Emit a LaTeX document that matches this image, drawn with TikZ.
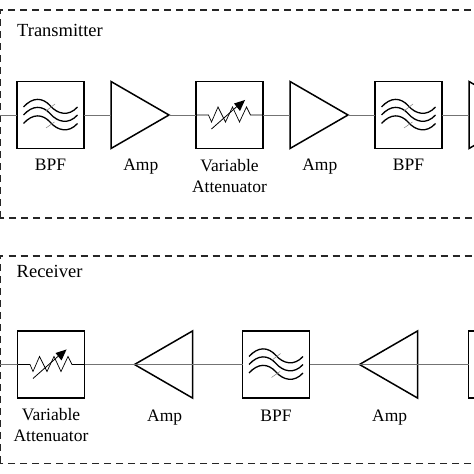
\documentclass[tikz,border=0pt]{standalone}
\usepackage{fontspec}
\setmainfont{Liberation Serif}
\usetikzlibrary{positioning,shapes.geometric}

\tikzset{
    bpfglyph/.pic={
        \foreach \dy in {8,0,-8.5} {
            \draw[line width=1.3pt,yshift=\dy pt] (-27,0) .. controls (-18,10) and (-8,10) .. (0,1)
                .. controls (7,-7) and (18,-10) .. (27,0);
        }
        \draw[gray,line width=0.5pt] (-4.5,4) -- (4.5,11);
        \draw[gray,line width=0.5pt] (-4.5,-13) -- (4,-7);
    },
    attenglyph/.pic={
        \draw[line width=0.7pt] (-33.5,0) -- (-21,0) -- (-18,-7) -- (-11.5,8) -- (-4,-7) -- (3,8) -- (10,-7) -- (17,8) -- (21,0) -- (33.5,0);
        \draw[line width=0.8pt] (-18,-14) -- (8,9);
        \fill (15.5,15) -- (4.5,11.5) -- (10.5,4) -- cycle;
    },
}

\begin{document}
\begin{tikzpicture}[
    x=1pt, y=1pt,
    font=\fontsize{17.5}{21.5}\selectfont,
    node distance=27pt,
    block/.style={draw, line width=1.5pt, minimum size=67pt, inner sep=0pt, outer sep=0pt, fill=white},
    amp/.style={draw, line width=1.5pt, isosceles triangle, isosceles triangle stretches, minimum width=67pt, minimum height=58pt, inner sep=0pt, outer sep=0pt, fill=white},
    wire/.style={draw=black!55, line width=0.8pt},
    frame/.style={draw=black!85, line width=1.1pt, dash pattern=on 7pt off 5pt},
    caption/.style={align=center, inner sep=0pt},
    title/.style={anchor=west, inner sep=0pt, font=\fontsize{18.5}{22}\selectfont},
]
    \clip (0,0) rectangle (474,474);
    \fill[white] (0,0) rectangle (474,474);

    % dashed outlines
    \draw[frame] (0,256) rectangle (490,464);
    \draw[frame] (0,10.5) rectangle (490,218);
    \node[title] (txtitle) at (17,444) {Transmitter};
    \node[title] (rxtitle) at (16.5,202.5) {Receiver};

    % transmitter chain
    \coordinate (txin) at (0,359);
    \node[block] (txbpfa) at (50.5,359) {};
    \node[amp, right=of txbpfa] (txampa) {};
    \node[block, right=of txampa] (txatt) {};
    \node[amp, right=of txatt] (txampb) {};
    \node[block, right=of txampb] (txbpfb) {};
    \node[amp, right=of txbpfb] (txampc) {};

    \draw[wire] (txin) -- (txbpfa);
    \draw[wire] (txbpfa) -- (txampa.west);
    \draw[wire] (txampa.east) -- (txatt);
    \draw[wire] (txatt) -- (txampb.west);
    \draw[wire] (txampb.east) -- (txbpfb);
    \draw[wire] (txbpfb) -- (txampc.west);

    \pic at (txatt) {attenglyph};
    \pic at (txbpfa) {bpfglyph};
    \pic at (txbpfb) {bpfglyph};

    \node[caption, below=10.5pt of txbpfa] (txcapa) {BPF};
    \node[caption, below=21pt of txampa, xshift=10.5pt] (txcapb) {Amp};
    \node[caption, below=10.5pt of txatt] (txcapc) {Variable\\Attenuator};
    \node[caption, below=21pt of txampb, xshift=10.5pt] (txcapd) {Amp};
    \node[caption, below=10.5pt of txbpfb] (txcape) {BPF};

    % receiver chain
    \coordinate (rxin) at (0,109.5);
    \node[block] (rxatt) at (51,109.5) {};
    \node[amp, shape border rotate=180, right=50pt of rxatt] (rxampa) {};
    \node[block, right=50pt of rxampa] (rxbpf) {};
    \node[amp, shape border rotate=180, right=50pt of rxbpf] (rxampb) {};
    \node[block, right=51pt of rxampb] (rxlast) {};

    \draw[wire] (rxin) -- (rxatt);
    \draw[wire] (rxatt) -- (rxampa.east);
    \draw[wire] (rxampa.west) -- (rxbpf);
    \draw[wire] (rxbpf) -- (rxampb.east);
    \draw[wire] (rxampb.west) -- (rxlast);

    \pic at (rxatt) {attenglyph};
    \pic at (rxbpf) {bpfglyph};

    \node[caption, below=10pt of rxatt] (rxcapa) {Variable\\Attenuator};
    \node[caption, below=23pt of rxampa, xshift=-8.5pt] (rxcapb) {Amp};
    \node[caption, below=12pt of rxbpf] (rxcapc) {BPF};
    \node[caption, below=23pt of rxampb, xshift=-8.5pt] (rxcapd) {Amp};
\end{tikzpicture}
\end{document}
